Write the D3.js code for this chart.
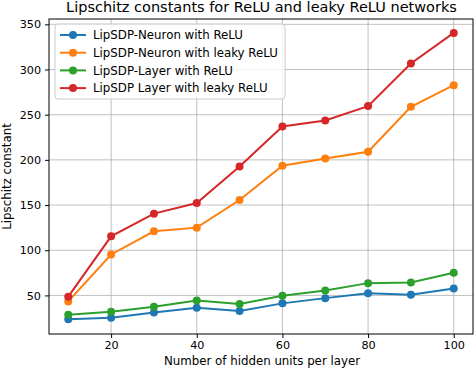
<!DOCTYPE html>
<html><head><meta charset="utf-8">
<script src="https://cdn.jsdelivr.net/npm/d3@7"></script>
<style>body{margin:0;background:#fff}svg{display:block}text{font-family:"DejaVu Sans",sans-serif}</style>
</head><body><div id="c"></div>
<script>
const units = [10,20,30,40,50,60,70,80,90,100];
const neuronRelu = [23.5,25.4,31.2,36.4,32.7,41.2,47,52.5,50.7,57.7];
const neuronLeaky = [43.4,95.3,121,125,155.6,193.5,201.5,209,258.8,282.7];
const layerRelu = [28.7,32,37.5,44.5,40.4,49.7,55.5,63.6,64.3,75];
const layerLeaky = [48.6,115.4,140.5,152.3,192.7,236.9,243.5,259.5,306.6,340.5];
const seriesNames = ["LipSDP-Neuron with ReLU","LipSDP-Neuron with leaky ReLU","LipSDP-Layer with ReLU","LipSDP Layer with leaky ReLU"];
const colors = ["#1f77b4","#ff7f0e","#2ca02c","#d62728"];
const xTicks = [20,40,60,80,100];
const yTicks = [50,100,150,200,250,300,350];

const W=474,H=370;
const L=49,R=473,T=19,B=334;
const svg=d3.select("#c").append("svg").attr("width",W).attr("height",H);
const x=d3.scaleLinear().domain([5.5,104.5]).range([L,R]);
const y=d3.scaleLinear().domain([7.3,355.9]).range([B,T]);

// grid
svg.append("g").selectAll("line").data(xTicks).join("line")
 .attr("x1",d=>x(d)).attr("x2",d=>x(d)).attr("y1",T).attr("y2",B)
 .attr("stroke","#b0b0b0").attr("stroke-width",0.8);
svg.append("g").selectAll("line").data(yTicks).join("line")
 .attr("y1",d=>y(d)).attr("y2",d=>y(d)).attr("x1",L).attr("x2",R)
 .attr("stroke","#b0b0b0").attr("stroke-width",0.8);

const all=[neuronRelu,neuronLeaky,layerRelu,layerLeaky];
const line=d3.line().x((d,i)=>x(units[i])).y(d=>y(d));
all.forEach((s,k)=>{
  const g=svg.append("g");
  g.append("path").attr("d",line(s)).attr("fill","none").attr("stroke",colors[k]).attr("stroke-width",2);
  g.selectAll("circle").data(s).join("circle").attr("cx",(d,i)=>x(units[i])).attr("cy",d=>y(d)).attr("r",4).attr("fill",colors[k]);
});

// axes
const xa=svg.append("g").attr("transform",`translate(0,${B})`).call(d3.axisBottom(x).tickValues(xTicks).tickSize(4).tickPadding(3));
const ya=svg.append("g").attr("transform",`translate(${L},0)`).call(d3.axisLeft(y).tickValues(yTicks).tickSize(4).tickPadding(4));
[xa,ya].forEach(a=>{a.select(".domain").remove();a.selectAll("text").attr("font-size",11.2).attr("fill","#000").style("font-family","DejaVu Sans");a.selectAll("line").attr("stroke","#000");});
svg.append("rect").attr("x",L).attr("y",T).attr("width",R-L).attr("height",B-T).attr("fill","none").attr("stroke","#000").attr("stroke-width",1);

// legend
const lg=svg.append("g");
lg.append("rect").attr("x",55).attr("y",24).attr("width",230).attr("height",75).attr("rx",3)
 .attr("fill","#fff").attr("fill-opacity",0.8).attr("stroke","#ccc");
seriesNames.forEach((n,k)=>{
  const yy=35+k*17.7;
  lg.append("line").attr("x1",60).attr("x2",86).attr("y1",yy).attr("y2",yy).attr("stroke",colors[k]).attr("stroke-width",2);
  lg.append("circle").attr("cx",73).attr("cy",yy).attr("r",4).attr("fill",colors[k]);
  lg.append("text").attr("x",93).attr("y",yy+4.2).attr("font-size",11.8).text(n);
});

svg.append("text").attr("x",(L+R)/2+0.5).attr("y",12).attr("text-anchor","middle").attr("font-size",14.5).text("Lipschitz constants for ReLU and leaky ReLU networks");
svg.append("text").attr("x",262).attr("y",365).attr("text-anchor","middle").attr("font-size",11.8).text("Number of hidden units per layer");
svg.append("text").attr("transform",`translate(11,${(T+B)/2}) rotate(-90)`).attr("text-anchor","middle").attr("font-size",11.8).text("Lipschitz constant");
</script></body></html>
